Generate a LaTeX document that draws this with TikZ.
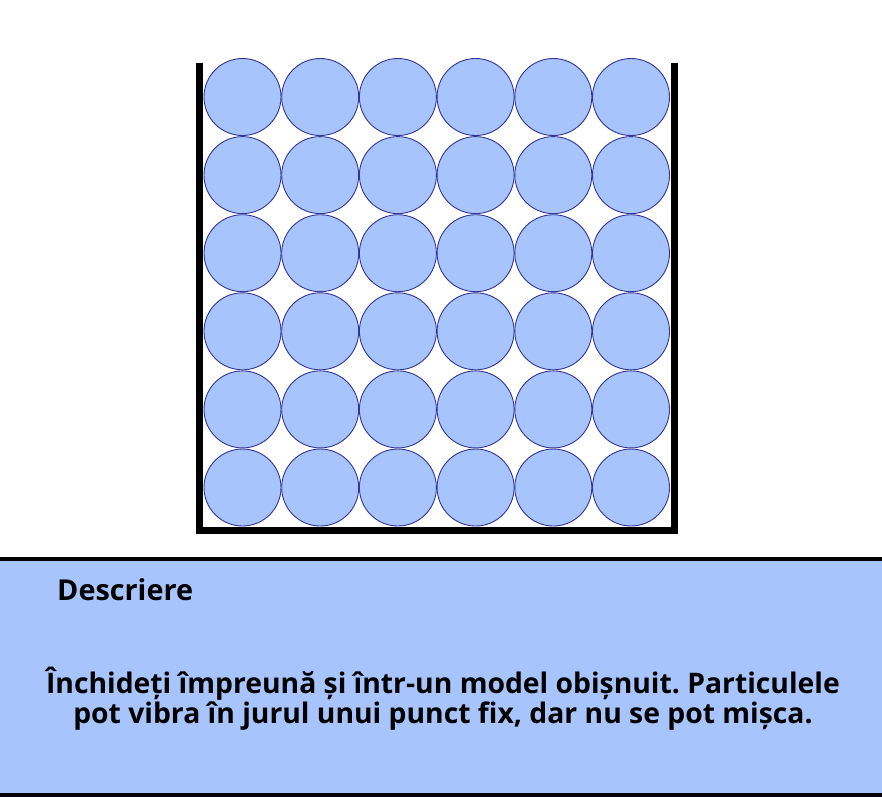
\documentclass[tikz,border=0pt]{standalone}
\usepackage{fontspec}
\setmainfont{Open Sans}
\definecolor{partblue}{RGB}{168,196,252}
\definecolor{partedge}{RGB}{50,52,150}
\tikzset{
  particle/.style={circle,draw=partedge,fill=partblue,line width=0.9pt,minimum size=77pt,inner sep=0pt},
  wall/.style={line width=7pt},
  panel/.style={draw=black,fill=partblue,line width=4.5pt}
}
\frenchspacing
\begin{document}
\begin{tikzpicture}[x=1pt,y=-1pt]
\useasboundingbox (0,0) rectangle (882,796);
	\begin{scope}
\pgfmathsetmacro{\gap}{77.7}
\pgfmathsetmacro{\rowgap}{78.1}
    \foreach \i in {0,...,5} {
      \foreach \j in {0,...,5} {
        \node[particle] (p\i\j) at (242.5+\gap*\i, 97+\rowgap*\j) {};
      }
    }
	\end{scope}
% container walls
\draw[wall] (199.5,63) -- (199.5,530) -- (674.5,530) -- (674.5,63);
% description panel
\draw[panel] (-10,559) rectangle (892,795);
\node[font=\bfseries\fontsize{28.8}{34}\selectfont,anchor=base west,inner sep=0pt] (title) at (57,600) {Descriere};
\node[font=\bfseries\fontsize{28.3}{30}\selectfont,align=center,anchor=base,inner sep=0pt] (desc) at (443,723)
  {Închideți împreună și într-un model obișnuit. Particulele\\pot vibra în jurul unui punct fix, dar nu se pot mișca.};
\end{tikzpicture}
\end{document}
